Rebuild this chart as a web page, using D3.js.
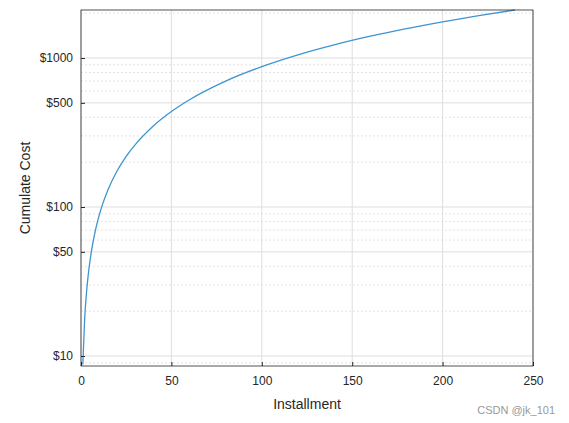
<!DOCTYPE html>
<html><head><meta charset="utf-8">
<script src="https://cdn.jsdelivr.net/npm/d3@7"></script>
<style>body{margin:0;background:#fff}svg{font-family:"Liberation Sans",Arial,sans-serif}</style>
</head><body><svg id="c" width="569" height="423"></svg>
<script>
const installments=[1,2,3,4,5,6,8,10,12,15,20,25,30,40,50,60,80,100,120,140,160,180,200,220,240];
const cumCost=[8.75,17.5,26.25,35,43.75,52.5,70,87.5,105,131.25,175,218.75,262.5,350,437.5,525,700,875,1050,1225,1400,1575,1750,1925,2100];
const xTicks=[0,50,100,150,200,250];
const yTicks=[10,50,100,500,1000];
const yMinor=[9,20,30,40,60,70,80,90,200,300,400,600,700,800,900,2000];

const svg=d3.select("#c");
const L=81,R=533,T=10,B=366;
const x=d3.scaleLinear().domain([0,250]).range([L,R]);
const y=d3.scaleLog().domain([Math.pow(10,1-10/149),Math.pow(10,3+48/149)]).range([B,T]);
const g=svg.append("g");
g.selectAll(".mn").data(yMinor.filter(v=>y(v)>T&&y(v)<B)).join("line")
 .attr("x1",L).attr("x2",R).attr("y1",d=>y(d)).attr("y2",d=>y(d))
 .attr("stroke","#e3e3e3").attr("stroke-dasharray","2,2");
g.selectAll(".gx").data(xTicks).join("line").attr("x1",d=>x(d)).attr("x2",d=>x(d)).attr("y1",T).attr("y2",B).attr("stroke","#dedede");
g.selectAll(".gy").data(yTicks).join("line").attr("x1",L).attr("x2",R).attr("y1",d=>y(d)).attr("y2",d=>y(d)).attr("stroke","#dedede");
svg.append("path").datum(installments.map((n,i)=>[n,cumCost[i]]))
 .attr("d",d3.line().x(d=>x(d[0])).y(d=>y(d[1])).curve(d3.curveMonotoneX))
 .attr("fill","none").attr("stroke","#3d95d0").attr("stroke-width",1.3);
svg.append("rect").attr("x",L).attr("y",T).attr("width",R-L).attr("height",B-T).attr("fill","none").attr("stroke","#262626").attr("stroke-width",0.8);
const ax=svg.append("g").attr("transform",`translate(0,${B})`).call(d3.axisBottom(x).tickValues(xTicks).tickSizeInner(-4).tickSizeOuter(0).tickPadding(10));
const ay=svg.append("g").attr("transform",`translate(${L},0)`).call(d3.axisLeft(y).tickValues(yTicks).tickFormat(d=>"$"+d).tickSizeInner(-4).tickSizeOuter(0).tickPadding(8));
[ax,ay].forEach(a=>{a.select(".domain").remove();a.selectAll("line").attr("stroke","#262626");a.selectAll("text").attr("font-size",12).attr("fill","#262626").attr("font-family","Liberation Sans,Arial,sans-serif");});
svg.append("text").attr("x",(L+R)/2).attr("y",409).attr("text-anchor","middle").attr("font-size",14).attr("fill","#262626").text("Installment");
svg.append("text").attr("transform",`translate(30,${(T+B)/2}) rotate(-90)`).attr("text-anchor","middle").attr("font-size",14).attr("fill","#262626").text("Cumulate Cost");
svg.append("text").attr("x",555).attr("y",414).attr("text-anchor","end").attr("font-size",11).attr("fill","#999").text("CSDN @jk_101");
</script></body></html>
